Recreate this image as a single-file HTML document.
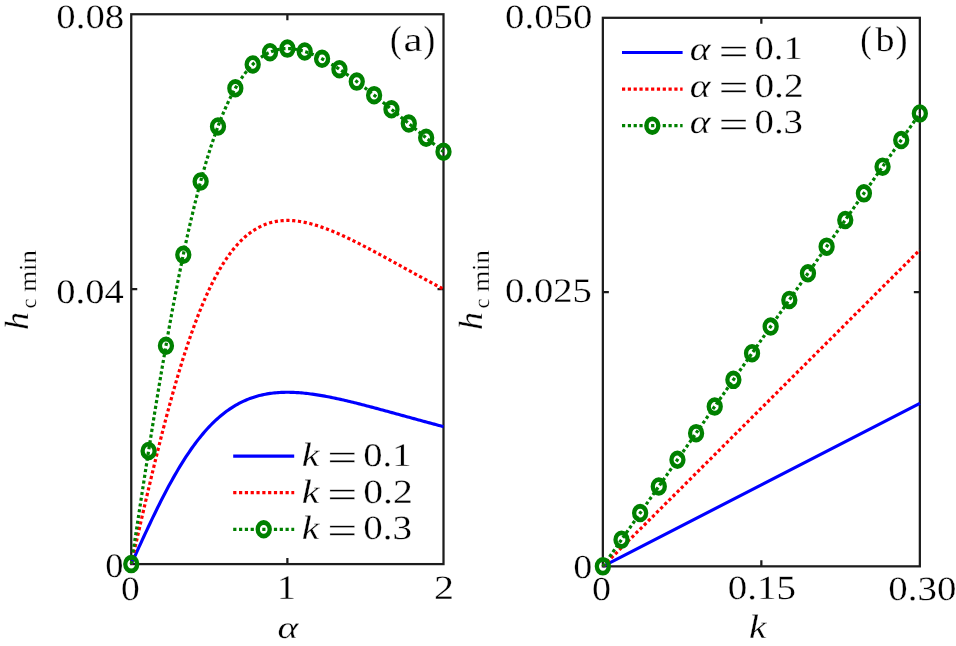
<!DOCTYPE html>
<html><head><meta charset="utf-8"><title>h_c min plots</title>
<style>html,body{margin:0;padding:0;background:#fff}svg{display:block}text{text-rendering:geometricPrecision;stroke:#fff;stroke-width:0.26px;font-family:"Liberation Serif",serif;fill:#000}</style>
</head><body>
<svg width="956" height="646" viewBox="0 0 956 646">
<rect width="956" height="646" fill="#fff"/>
<g><rect x="131.25" y="14.25" width="312.25" height="549.85" fill="none" stroke="#1c1c1c" stroke-width="2.25"/><path d="M287.38,564.1v-6.0M287.38,14.25v6.0M131.25,289.18h6.0M443.5,289.18h-6.0" stroke="#1c1c1c" stroke-width="2.25" fill="none"/><rect x="602.85" y="17.8" width="317.00" height="548.55" fill="none" stroke="#1c1c1c" stroke-width="2.25"/><path d="M761.35,566.35v-6.0M761.35,17.8v6.0M602.85,292.07h6.0M919.85,292.07h-6.0" stroke="#1c1c1c" stroke-width="2.25" fill="none"/></g>
<g><polyline points="131.25,564.10 132.81,560.66 134.37,557.23 135.93,553.80 137.50,550.38 139.06,546.96 140.62,543.55 142.18,540.16 143.74,536.78 145.30,533.42 146.86,530.07 148.42,526.75 149.99,523.45 151.55,520.17 153.11,516.91 154.67,513.69 156.23,510.49 157.79,507.32 159.35,504.18 160.91,501.08 162.47,498.01 164.04,494.98 165.60,491.99 167.16,489.03 168.72,486.11 170.28,483.24 171.84,480.41 173.40,477.62 174.97,474.87 176.53,472.17 178.09,469.52 179.65,466.91 181.21,464.34 182.77,461.83 184.33,459.36 185.89,456.95 187.45,454.58 189.02,452.26 190.58,449.99 192.14,447.77 193.70,445.60 195.26,443.48 196.82,441.41 198.38,439.39 199.94,437.42 201.51,435.50 203.07,433.63 204.63,431.81 206.19,430.03 207.75,428.31 209.31,426.64 210.87,425.01 212.44,423.43 214.00,421.90 215.56,420.42 217.12,418.99 218.68,417.60 220.24,416.25 221.80,414.95 223.36,413.70 224.93,412.49 226.49,411.32 228.05,410.19 229.61,409.11 231.17,408.07 232.73,407.07 234.29,406.11 235.85,405.19 237.42,404.30 238.98,403.46 240.54,402.65 242.10,401.88 243.66,401.14 245.22,400.44 246.78,399.78 248.34,399.14 249.91,398.55 251.47,397.98 253.03,397.44 254.59,396.94 256.15,396.46 257.71,396.02 259.27,395.60 260.83,395.21 262.39,394.85 263.96,394.52 265.52,394.21 267.08,393.92 268.64,393.67 270.20,393.43 271.76,393.22 273.32,393.03 274.88,392.87 276.45,392.72 278.01,392.60 279.57,392.50 281.13,392.41 282.69,392.35 284.25,392.31 285.81,392.28 287.38,392.27 288.94,392.28 290.50,392.31 292.06,392.35 293.62,392.40 295.18,392.48 296.74,392.56 298.30,392.66 299.87,392.78 301.43,392.91 302.99,393.05 304.55,393.20 306.11,393.37 307.67,393.55 309.23,393.74 310.79,393.94 312.36,394.15 313.92,394.37 315.48,394.60 317.04,394.84 318.60,395.09 320.16,395.35 321.72,395.61 323.28,395.89 324.85,396.17 326.41,396.46 327.97,396.76 329.53,397.07 331.09,397.38 332.65,397.70 334.21,398.02 335.77,398.35 337.34,398.69 338.90,399.03 340.46,399.38 342.02,399.73 343.58,400.09 345.14,400.45 346.70,400.81 348.26,401.19 349.83,401.56 351.39,401.94 352.95,402.32 354.51,402.71 356.07,403.09 357.63,403.49 359.19,403.88 360.75,404.28 362.31,404.68 363.88,405.08 365.44,405.49 367.00,405.90 368.56,406.31 370.12,406.72 371.68,407.13 373.24,407.55 374.81,407.97 376.37,408.38 377.93,408.80 379.49,409.23 381.05,409.65 382.61,410.07 384.17,410.50 385.73,410.92 387.30,411.35 388.86,411.77 390.42,412.20 391.98,412.63 393.54,413.06 395.10,413.49 396.66,413.92 398.22,414.35 399.78,414.77 401.35,415.20 402.91,415.63 404.47,416.06 406.03,416.49 407.59,416.92 409.15,417.35 410.71,417.78 412.28,418.21 413.84,418.64 415.40,419.06 416.96,419.49 418.52,419.92 420.08,420.34 421.64,420.77 423.20,421.19 424.77,421.62 426.33,422.04 427.89,422.46 429.45,422.88 431.01,423.31 432.57,423.73 434.13,424.14 435.69,424.56 437.25,424.98 438.82,425.40 440.38,425.81 441.94,426.22 443.50,426.64" fill="none" stroke="#0000ff" stroke-width="3.15" stroke-linejoin="round"/><polyline points="131.25,564.10 132.81,557.23 134.37,550.36 135.93,543.50 137.50,536.65 139.06,529.82 140.62,523.01 142.18,516.22 143.74,509.46 145.30,502.74 146.86,496.05 148.42,489.40 149.99,482.79 151.55,476.23 153.11,469.73 154.67,463.27 156.23,456.87 157.79,450.54 159.35,444.27 160.91,438.06 162.47,431.92 164.04,425.86 165.60,419.87 167.16,413.96 168.72,408.13 170.28,402.38 171.84,396.71 173.40,391.13 174.97,385.64 176.53,380.24 178.09,374.93 179.65,369.71 181.21,364.59 182.77,359.56 184.33,354.63 185.89,349.79 187.45,345.06 189.02,340.42 190.58,335.88 192.14,331.44 193.70,327.10 195.26,322.86 196.82,318.71 198.38,314.67 199.94,310.73 201.51,306.89 203.07,303.15 204.63,299.51 206.19,295.97 207.75,292.52 209.31,289.18 210.87,285.92 212.44,282.77 214.00,279.71 215.56,276.74 217.12,273.87 218.68,271.09 220.24,268.40 221.80,265.81 223.36,263.30 224.93,260.87 226.49,258.54 228.05,256.29 229.61,254.12 231.17,252.04 232.73,250.04 234.29,248.12 235.85,246.27 237.42,244.51 238.98,242.82 240.54,241.20 242.10,239.66 243.66,238.19 245.22,236.79 246.78,235.45 248.34,234.19 249.91,232.99 251.47,231.86 253.03,230.79 254.59,229.78 256.15,228.83 257.71,227.93 259.27,227.10 260.83,226.32 262.39,225.60 263.96,224.93 265.52,224.32 267.08,223.75 268.64,223.23 270.20,222.76 271.76,222.34 273.32,221.97 274.88,221.63 276.45,221.35 278.01,221.10 279.57,220.90 281.13,220.73 282.69,220.60 284.25,220.51 285.81,220.46 287.38,220.44 288.94,220.46 290.50,220.51 292.06,220.59 293.62,220.71 295.18,220.85 296.74,221.03 298.30,221.23 299.87,221.46 301.43,221.72 302.99,222.00 304.55,222.31 306.11,222.64 307.67,222.99 309.23,223.37 310.79,223.77 312.36,224.19 313.92,224.64 315.48,225.10 317.04,225.58 318.60,226.08 320.16,226.59 321.72,227.13 323.28,227.68 324.85,228.24 326.41,228.83 327.97,229.42 329.53,230.03 331.09,230.66 332.65,231.29 334.21,231.94 335.77,232.60 337.34,233.28 338.90,233.96 340.46,234.65 342.02,235.36 343.58,236.07 345.14,236.80 346.70,237.53 348.26,238.27 349.83,239.02 351.39,239.78 352.95,240.54 354.51,241.31 356.07,242.09 357.63,242.87 359.19,243.66 360.75,244.46 362.31,245.26 363.88,246.07 365.44,246.88 367.00,247.69 368.56,248.51 370.12,249.34 371.68,250.17 373.24,251.00 374.81,251.83 376.37,252.67 377.93,253.51 379.49,254.35 381.05,255.20 382.61,256.04 384.17,256.89 385.73,257.74 387.30,258.59 388.86,259.45 390.42,260.30 391.98,261.16 393.54,262.02 395.10,262.87 396.66,263.73 398.22,264.59 399.78,265.45 401.35,266.31 402.91,267.17 404.47,268.03 406.03,268.89 407.59,269.74 409.15,270.60 410.71,271.46 412.28,272.32 413.84,273.17 415.40,274.03 416.96,274.88 418.52,275.73 420.08,276.59 421.64,277.44 423.20,278.29 424.77,279.13 426.33,279.98 427.89,280.83 429.45,281.67 431.01,282.51 432.57,283.35 434.13,284.19 435.69,285.02 437.25,285.86 438.82,286.69 440.38,287.52 441.94,288.35 443.50,289.18" fill="none" stroke="#ff0000" stroke-width="3.2" stroke-dasharray="3.2 2.615" stroke-dashoffset="0.00"/><polyline points="131.25,564.10 132.81,553.79 134.37,543.49 135.93,533.20 137.50,522.93 139.06,512.68 140.62,502.46 142.18,492.28 143.74,482.15 145.30,472.06 146.86,462.02 148.42,452.05 149.99,442.14 151.55,432.30 153.11,422.54 154.67,412.86 156.23,403.26 157.79,393.76 159.35,384.35 160.91,375.04 162.47,365.84 164.04,356.74 165.60,347.76 167.16,338.89 168.72,330.14 170.28,321.52 171.84,313.02 173.40,304.65 174.97,296.42 176.53,288.31 178.09,280.35 179.65,272.52 181.21,264.83 182.77,257.29 184.33,249.89 185.89,242.64 187.45,235.53 189.02,228.57 190.58,221.77 192.14,215.10 193.70,208.59 195.26,202.23 196.82,196.02 198.38,189.96 199.94,184.05 201.51,178.29 203.07,172.68 204.63,167.22 206.19,161.90 207.75,156.73 209.31,151.71 210.87,146.84 212.44,142.10 214.00,137.51 215.56,133.07 217.12,128.76 218.68,124.59 220.24,120.56 221.80,116.66 223.36,112.89 224.93,109.26 226.49,105.76 228.05,102.38 229.61,99.13 231.17,96.01 232.73,93.01 234.29,90.12 235.85,87.36 237.42,84.71 238.98,82.18 240.54,79.75 242.10,77.44 243.66,75.23 245.22,73.13 246.78,71.13 248.34,69.24 249.91,67.44 251.47,65.73 253.03,64.13 254.59,62.61 256.15,61.19 257.71,59.85 259.27,58.60 260.83,57.44 262.39,56.35 263.96,55.35 265.52,54.42 267.08,53.57 268.64,52.80 270.20,52.10 271.76,51.46 273.32,50.90 274.88,50.40 276.45,49.97 278.01,49.60 279.57,49.29 281.13,49.04 282.69,48.85 284.25,48.72 285.81,48.64 287.38,48.62 288.94,48.64 290.50,48.72 292.06,48.84 293.62,49.01 295.18,49.23 296.74,49.49 298.30,49.79 299.87,50.14 301.43,50.52 302.99,50.95 304.55,51.41 306.11,51.91 307.67,52.44 309.23,53.01 310.79,53.61 312.36,54.24 313.92,54.90 315.48,55.60 317.04,56.32 318.60,57.07 320.16,57.84 321.72,58.64 323.28,59.47 324.85,60.32 326.41,61.19 327.97,62.08 329.53,63.00 331.09,63.93 332.65,64.89 334.21,65.86 335.77,66.85 337.34,67.86 338.90,68.89 340.46,69.93 342.02,70.99 343.58,72.06 345.14,73.15 346.70,74.24 348.26,75.36 349.83,76.48 351.39,77.61 352.95,78.76 354.51,79.92 356.07,81.08 357.63,82.26 359.19,83.45 360.75,84.64 362.31,85.84 363.88,87.05 365.44,88.27 367.00,89.49 368.56,90.72 370.12,91.96 371.68,93.20 373.24,94.44 374.81,95.70 376.37,96.95 377.93,98.21 379.49,99.48 381.05,100.74 382.61,102.01 384.17,103.29 385.73,104.56 387.30,105.84 388.86,107.12 390.42,108.41 391.98,109.69 393.54,110.97 395.10,112.26 396.66,113.55 398.22,114.84 399.78,116.12 401.35,117.41 402.91,118.70 404.47,119.99 406.03,121.28 407.59,122.57 409.15,123.85 410.71,125.14 412.28,126.42 413.84,127.71 415.40,128.99 416.96,130.27 418.52,131.55 420.08,132.83 421.64,134.11 423.20,135.38 424.77,136.65 426.33,137.92 427.89,139.19 429.45,140.45 431.01,141.72 432.57,142.98 434.13,144.23 435.69,145.49 437.25,146.74 438.82,147.99 440.38,149.23 441.94,150.47 443.50,151.71" fill="none" stroke="#008000" stroke-width="3.2" stroke-dasharray="3.2 2.615" stroke-dashoffset="0"/><polyline points="602.85,566.35 761.35,484.88 919.85,403.41" fill="none" stroke="#0000ff" stroke-width="3.15"/><polyline points="602.85,566.35 761.35,408.11 919.85,249.88" fill="none" stroke="#ff0000" stroke-width="3.2" stroke-dasharray="3.2 2.615"/><polyline points="602.85,566.35 761.35,339.88 919.85,113.42" fill="none" stroke="#008000" stroke-width="3.2" stroke-dasharray="3.2 2.615"/><path d="M233.2,456.1H294.2" stroke="#0000ff" stroke-width="3.15"/><path d="M233.2,492.70H294.2" stroke="#ff0000" stroke-width="3.2" stroke-dasharray="3.2 2.615"/><path d="M233.2,529.30H294.2" stroke="#008000" stroke-width="3.2" stroke-dasharray="3.2 2.615"/><path d="M622.0,52.5H682.6" stroke="#0000ff" stroke-width="3.15"/><path d="M622.0,89.10H682.6" stroke="#ff0000" stroke-width="3.2" stroke-dasharray="3.2 2.615"/><path d="M622.0,125.70H682.6" stroke="#008000" stroke-width="3.2" stroke-dasharray="3.2 2.615"/></g>
<g fill="none" stroke="#008000" stroke-width="4.3"><circle r="6.0" transform="translate(131.25,564.10) scale(1,1.135)"/><circle r="6.0" transform="translate(148.60,450.94) scale(1,1.135)"/><circle r="6.0" transform="translate(165.94,345.78) scale(1,1.135)"/><circle r="6.0" transform="translate(183.29,254.81) scale(1,1.135)"/><circle r="6.0" transform="translate(200.64,181.47) scale(1,1.135)"/><circle r="6.0" transform="translate(217.99,126.42) scale(1,1.135)"/><circle r="6.0" transform="translate(235.33,88.27) scale(1,1.135)"/><circle r="6.0" transform="translate(252.68,64.48) scale(1,1.135)"/><circle r="6.0" transform="translate(270.03,52.17) scale(1,1.135)"/><circle r="6.0" transform="translate(287.38,48.62) scale(1,1.135)"/><circle r="6.0" transform="translate(304.72,51.46) scale(1,1.135)"/><circle r="6.0" transform="translate(322.07,58.82) scale(1,1.135)"/><circle r="6.0" transform="translate(339.42,69.24) scale(1,1.135)"/><circle r="6.0" transform="translate(356.76,81.61) scale(1,1.135)"/><circle r="6.0" transform="translate(374.11,95.14) scale(1,1.135)"/><circle r="6.0" transform="translate(391.46,109.26) scale(1,1.135)"/><circle r="6.0" transform="translate(408.81,123.57) scale(1,1.135)"/><circle r="6.0" transform="translate(426.15,137.78) scale(1,1.135)"/><circle r="6.0" transform="translate(443.50,151.71) scale(1,1.135)"/><circle r="6.0" transform="translate(602.85,566.35) scale(1,1.135)"/><circle r="6.0" transform="translate(621.50,539.71) scale(1,1.135)"/><circle r="6.0" transform="translate(640.14,513.06) scale(1,1.135)"/><circle r="6.0" transform="translate(658.79,486.42) scale(1,1.135)"/><circle r="6.0" transform="translate(677.44,459.78) scale(1,1.135)"/><circle r="6.0" transform="translate(696.09,433.13) scale(1,1.135)"/><circle r="6.0" transform="translate(714.73,406.49) scale(1,1.135)"/><circle r="6.0" transform="translate(733.38,379.85) scale(1,1.135)"/><circle r="6.0" transform="translate(752.03,353.21) scale(1,1.135)"/><circle r="6.0" transform="translate(770.67,326.56) scale(1,1.135)"/><circle r="6.0" transform="translate(789.32,299.92) scale(1,1.135)"/><circle r="6.0" transform="translate(807.97,273.28) scale(1,1.135)"/><circle r="6.0" transform="translate(826.61,246.63) scale(1,1.135)"/><circle r="6.0" transform="translate(845.26,219.99) scale(1,1.135)"/><circle r="6.0" transform="translate(863.91,193.35) scale(1,1.135)"/><circle r="6.0" transform="translate(882.56,166.70) scale(1,1.135)"/><circle r="6.0" transform="translate(901.20,140.06) scale(1,1.135)"/><circle r="6.0" transform="translate(919.85,113.42) scale(1,1.135)"/><circle r="6.0" transform="translate(263.70,529.30) scale(1,1.135)"/><circle r="6.0" transform="translate(652.30,125.70) scale(1,1.135)"/></g>
<g>
<text transform="translate(56.35,28.39) scale(1.1405,1)" font-size="33.97">0.08</text>
<text transform="translate(56.36,302.69) scale(1.1243,1)" font-size="34.26">0.04</text>
<text transform="translate(105.34,577.16) scale(1.0599,1)" font-size="34.37">0</text>
<text transform="translate(121.10,599.76) scale(1.1137,1)" font-size="33.78">0</text>
<text transform="translate(276.73,599.40) scale(1.1229,1)" font-size="34.35">1</text>
<text transform="translate(434.00,599.40) scale(1.1733,1)" font-size="34.09">2</text>
<text transform="translate(277.41,637.69) scale(1.2591,1)" font-size="31.46" font-style="italic">α</text>
<text transform="translate(390.11,51.67) scale(0.9343,1)" font-size="37.78">(</text>
<text transform="translate(403.39,51.46) scale(1.2542,1)" font-size="34.32">a</text>
<text transform="translate(423.55,51.67) scale(0.9265,1)" font-size="37.78">)</text>
<text transform="translate(301.71,466.20) scale(1.1777,1)" font-size="33.77" font-style="italic">k</text>
<text transform="translate(327.33,470.19) scale(1.4035,1)" font-size="38.00">=</text>
<text transform="translate(363.26,465.71) scale(1.1720,1)" font-size="32.94">0.1</text>
<text transform="translate(301.71,502.80) scale(1.1777,1)" font-size="33.77" font-style="italic">k</text>
<text transform="translate(327.33,506.79) scale(1.4035,1)" font-size="38.00">=</text>
<text transform="translate(363.21,502.89) scale(1.1724,1)" font-size="33.82">0.2</text>
<text transform="translate(301.71,539.40) scale(1.1777,1)" font-size="33.77" font-style="italic">k</text>
<text transform="translate(327.33,543.39) scale(1.4035,1)" font-size="38.00">=</text>
<text transform="translate(363.23,539.49) scale(1.1573,1)" font-size="33.82">0.3</text>
<text transform="translate(28.27,330.06) rotate(-90) scale(1.0722,1)" font-size="33.58" font-style="italic">h</text>
<text transform="translate(35.78,308.41) rotate(-90) scale(1.0362,1)" font-size="21.88">c</text>
<text transform="translate(35.80,291.84) rotate(-90) scale(1.0962,1)" font-size="24.55">min</text>
<text transform="translate(505.05,28.19) scale(1.1461,1)" font-size="33.90">0.050</text>
<text transform="translate(504.96,301.68) scale(1.1222,1)" font-size="34.41">0.025</text>
<text transform="translate(573.18,577.57) scale(1.1378,1)" font-size="33.48">0</text>
<text transform="translate(591.98,599.97) scale(1.1378,1)" font-size="33.48">0</text>
<text transform="translate(727.64,599.39) scale(1.1543,1)" font-size="33.82">0.15</text>
<text transform="translate(888.24,599.69) scale(1.1507,1)" font-size="33.82">0.30</text>
<text transform="translate(748.92,638.00) scale(1.1639,1)" font-size="33.77" font-style="italic">k</text>
<text transform="translate(860.35,51.67) scale(0.9135,1)" font-size="37.78">(</text>
<text transform="translate(875.40,51.46) scale(1.1142,1)" font-size="34.14">b</text>
<text transform="translate(895.62,51.67) scale(0.9570,1)" font-size="37.78">)</text>
<text transform="translate(689.71,59.97) scale(1.1882,1)" font-size="33.33" font-style="italic">α</text>
<text transform="translate(718.43,63.89) scale(1.4035,1)" font-size="38.00">=</text>
<text transform="translate(754.45,59.41) scale(1.1773,1)" font-size="32.94">0.1</text>
<text transform="translate(689.71,96.57) scale(1.1882,1)" font-size="33.33" font-style="italic">α</text>
<text transform="translate(718.43,100.49) scale(1.4035,1)" font-size="38.00">=</text>
<text transform="translate(754.42,96.59) scale(1.1647,1)" font-size="33.82">0.2</text>
<text transform="translate(689.71,133.17) scale(1.1882,1)" font-size="33.33" font-style="italic">α</text>
<text transform="translate(718.43,137.09) scale(1.4035,1)" font-size="38.00">=</text>
<text transform="translate(754.44,133.19) scale(1.1498,1)" font-size="33.82">0.3</text>
<text transform="translate(481.67,330.06) rotate(-90) scale(1.0722,1)" font-size="33.58" font-style="italic">h</text>
<text transform="translate(489.18,308.41) rotate(-90) scale(1.0362,1)" font-size="21.88">c</text>
<text transform="translate(489.20,291.84) rotate(-90) scale(1.0962,1)" font-size="24.55">min</text>
</g>
</svg>
</body></html>
